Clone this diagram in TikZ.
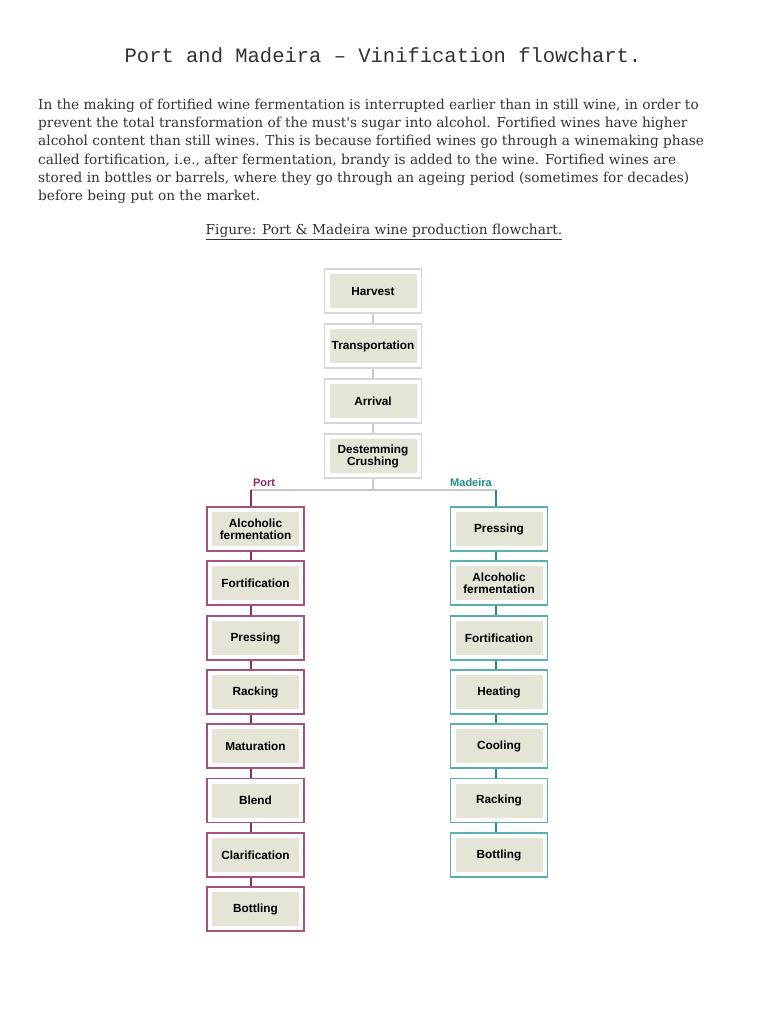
\documentclass[tikz,border=0pt]{standalone}
\usepackage{fontspec}
\setmainfont{Liberation Sans}
\newfontfamily\titlefont{Liberation Mono}
\newfontfamily\parafont{DejaVu Serif}
\definecolor{portc}{HTML}{8C2A62}
\definecolor{portb}{HTML}{A6527F}
\definecolor{madc}{HTML}{218B8B}
\definecolor{madb}{HTML}{5AAFAF}
\definecolor{linegray}{HTML}{C9C9C9}
\definecolor{topb}{HTML}{D6D6D6}
\definecolor{boxfill}{HTML}{E4E5D7}
\definecolor{bodytext}{HTML}{333333}
\tikzset{
  stepbox/.style={draw=#1, line width=1.1pt, fill=white, minimum width=97pt, minimum height=44pt,
    inner sep=0pt, align=center, font=\fontsize{11.8}{12}\selectfont\bfseries, text=black,
    path picture={\fill[boxfill] ([shift={(5pt,5pt)}]path picture bounding box.south west) rectangle ([shift={(-5pt,-5pt)}]path picture bounding box.north east);}},
  topbox/.style={stepbox=topb},
  portbox/.style={stepbox=portb},
  madbox/.style={stepbox=madb},
  grayline/.style={draw=linegray, line width=1.6pt},
  portline/.style={draw=portc, line width=1.8pt},
  madline/.style={draw=madc, line width=1.8pt},
}
\begin{document}
\begin{tikzpicture}[x=1pt,y=-1pt]
\useasboundingbox[fill=white] (0,0) rectangle (768,1024);
\node[font=\titlefont\fontsize{20.5}{24}\selectfont, text=bodytext] (title) at (383,55) {Port and Madeira – Vinification flowchart.};
\node[anchor=north west, inner sep=0pt, align=left, text=bodytext, font=\parafont\fontsize{13.7}{18.3}\selectfont] (para) at (38,98.5)
{In the making of fortified wine fermentation is interrupted earlier than in still wine, in order to\\
prevent the total transformation of the must's sugar into alcohol. Fortified wines have higher\\
alcohol content than still wines. This is because fortified wines go through a winemaking phase\\
called fortification, i.e., after fermentation, brandy is added to the wine. Fortified wines are\\
stored in bottles or barrels, where they go through an ageing period (sometimes for decades)\\
before being put on the market.};
\node[text=bodytext, font=\parafont\fontsize{13.7}{16}\selectfont] (caption) at (384,232) {\underline{Figure: Port \& Madeira wine production flowchart.}};

% top column
\node[topbox] (harvest) at (373,291) {Harvest};
\node[topbox] (transp) at (373,346) {Transportation};
\node[topbox] (arrival) at (373,401) {Arrival};
\node[topbox] (destem) at (373,456) {Destemming\\Crushing};
\draw[grayline] (harvest.south) -- (transp.north);
\draw[grayline] (transp.south) -- (arrival.north);
\draw[grayline] (arrival.south) -- (destem.north);

% branch
\coordinate (jl) at (251,490);
\coordinate (jr) at (496,490);
\coordinate (jc) at (destem.south |- jl);
\draw[grayline] (destem.south) -- (jc);
\draw[grayline] (jl) -- (jr);
\node[text=portc, font=\fontsize{11}{12}\selectfont\bfseries] (portlab) at (264,483) {Port};
\node[text=madc, font=\fontsize{11}{12}\selectfont\bfseries] (madlab) at (471,483) {Madeira};

% Port column
\node[portbox] (p1) at (255.5,529) {Alcoholic\\fermentation};
\node[portbox] (p2) at (255.5,583) {Fortification};
\node[portbox] (p3) at (255.5,638) {Pressing};
\node[portbox] (p4) at (255.5,692) {Racking};
\node[portbox] (p5) at (255.5,746) {Maturation};
\node[portbox] (p6) at (255.5,800.5) {Blend};
\node[portbox] (p7) at (255.5,855) {Clarification};
\node[portbox] (p8) at (255.5,909) {Bottling};
\draw[portline] (jl) -- (jl |- p1.north);
\foreach \a/\b in {p1/p2,p2/p3,p3/p4,p4/p5,p5/p6,p6/p7,p7/p8}
  \draw[portline] (\a.south -| jl) -- (\b.north -| jl);

% Madeira column
\node[madbox] (m1) at (499,529) {Pressing};
\node[madbox] (m2) at (499,583) {Alcoholic\\fermentation};
\node[madbox] (m3) at (499,638) {Fortification};
\node[madbox] (m4) at (499,692) {Heating};
\node[madbox] (m5) at (499,746) {Cooling};
\node[madbox] (m6) at (499,800.5) {Racking};
\node[madbox] (m7) at (499,855) {Bottling};
\draw[madline] (jr) -- (jr |- m1.north);
\foreach \a/\b in {m1/m2,m2/m3,m3/m4,m4/m5,m5/m6,m6/m7}
  \draw[madline] (\a.south -| jr) -- (\b.north -| jr);
\end{tikzpicture}
\end{document}
